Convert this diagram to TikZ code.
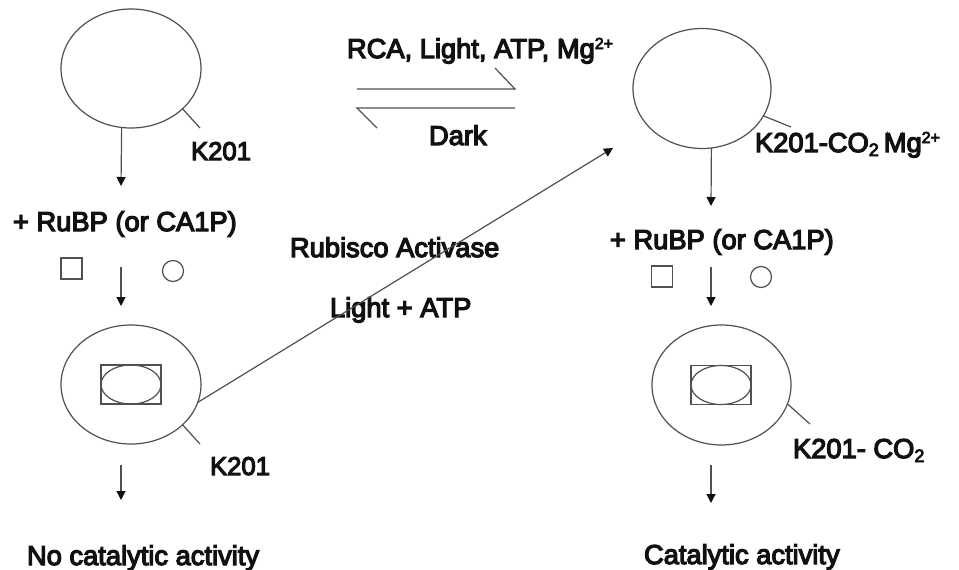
\documentclass[tikz,border=0pt]{standalone}
\usepackage{fontspec}
\setmainfont[FakeBold=4.5]{Liberation Sans}
\usetikzlibrary{arrows.meta,shapes.geometric}
\definecolor{ln}{HTML}{505050}
\definecolor{tx}{HTML}{111111}
\tikzset{
  lab/.style={anchor=base west,inner sep=0pt,outer sep=0pt,text=tx,font=\fontsize{27.3}{30}\selectfont},
  smalllab/.style={lab,font=\fontsize{25.7}{30}\selectfont},
  bigell/.style={draw=ln,ellipse,minimum width=140pt,minimum height=119pt,inner sep=0pt,outer sep=0pt,line width=1.2pt},
  site/.style={draw=ln,rectangle,minimum width=60pt,minimum height=39pt,inner sep=0pt,outer sep=0pt,line width=1.3pt},
  inell/.style={draw=ln,ellipse,minimum width=60pt,minimum height=39pt,inner sep=0pt,outer sep=0pt,line width=1.2pt},
  sq/.style={draw=ln,rectangle,minimum width=21pt,minimum height=21pt,inner sep=0pt,outer sep=0pt,line width=1.2pt},
  ci/.style={draw=ln,circle,minimum size=21pt,inner sep=0pt,outer sep=0pt,line width=1.2pt},
  arr/.style={draw=ln,line width=1.2pt,-{Triangle[length=9pt,width=9pt,color=tx]}},
  lead/.style={draw=ln,line width=1.2pt},
}
\newcommand{\supx}[1]{\raisebox{9pt}{\fontsize{16}{16}\selectfont #1}}
\newcommand{\subx}[1]{\raisebox{-4pt}{\fontsize{18}{18}\selectfont #1}}
\begin{document}
\begin{tikzpicture}[x=1pt,y=-1pt]
\useasboundingbox (0,0) rectangle (959,570);
% ellipses
\node[bigell] (e1) at (131,68.5) {};
\node[bigell,minimum width=138pt,minimum height=120pt] (e2) at (702,88.5) {};
\node[bigell] (e3) at (131,384.5) {};
\node[bigell,minimum width=139pt,minimum height=120pt] (e4) at (721.5,385) {};
% substrate sites
\node[site] (r3) at (131,384.5) {};
\node[inell] (i3) at (131,384.5) {};
\node[site] (r4) at (721,385) {};
\node[inell] (i4) at (721,385) {};
% small shapes
\node[sq] (s1) at (71.5,268.5) {};
\node[ci] (c1) at (173,271) {};
\node[sq] (s2) at (662,276.5) {};
\node[ci] (c2) at (761,277) {};
% labels
\node[smalllab] (t1) at (191,160) {K201};
\node[lab] (t2) at (13,231) {+ RuBP (or CA1P)};
\node[smalllab] (t3) at (210,475) {K201};
\node[lab] (t4) at (27,565) {No catalytic activity};
\node[lab] (t5) at (347,58) {RCA, Light, ATP, Mg\supx{2+}};
\node[lab] (t6) at (429,145) {Dark};
\node[lab] (t7) at (290,257) {Rubisco Activase};
\node[lab] (t8) at (330,317) {Light + ATP};
\node[lab] (t9) at (755,152) {K201-CO\subx{2}\hspace{5pt}Mg\supx{2+}};
\node[lab] (t10) at (610,249) {+ RuBP (or CA1P)};
\node[lab] (t11) at (793,458) {K201- CO\subx{2}};
\node[lab] (t12) at (644,564) {Catalytic activity};
% free ends
\coordinate (a1) at (121,186);
\coordinate (a2s) at (121,267);
\coordinate (a2e) at (121,306);
\coordinate (a3s) at (121,465);
\coordinate (a3e) at (121,500);
\coordinate (a4) at (711,206);
\coordinate (a5s) at (711,267);
\coordinate (a5e) at (711,306);
\coordinate (a6s) at (711,465);
\coordinate (a6e) at (711,503);
\coordinate (d1) at (613,148);
\coordinate (l1) at (200,128);
\coordinate (l2) at (791,127);
\coordinate (l3) at (200,444);
\coordinate (l4) at (810,424);
\coordinate (h1) at (357,89);
\coordinate (h2) at (515,89);
\coordinate (h3) at (495,68);
\coordinate (h4) at (515,108);
\coordinate (h5) at (357,108);
\coordinate (h6) at (377,128);
% connectors
\draw[arr] (e1.-99.5) -- (a1);
\draw[arr] (a2s) -- (a2e);
\draw[arr] (a3s) -- (a3e);
\draw[arr] (e2.-81.5) -- (a4);
\draw[arr] (a5s) -- (a5e);
\draw[arr] (a6s) -- (a6e);
\draw[arr] (e3.-15.6) -- (d1);
\draw[lead] (e1.-38.6) -- (l1);
\draw[lead] (e2.-24) -- (l2);
\draw[lead] (e3.-38.6) -- (l3);
\draw[lead] (e4.-16) -- (l4);
\draw[lead] (h1) -- (h2) -- (h3);
\draw[lead] (h4) -- (h5) -- (h6);
\end{tikzpicture}
\end{document}
